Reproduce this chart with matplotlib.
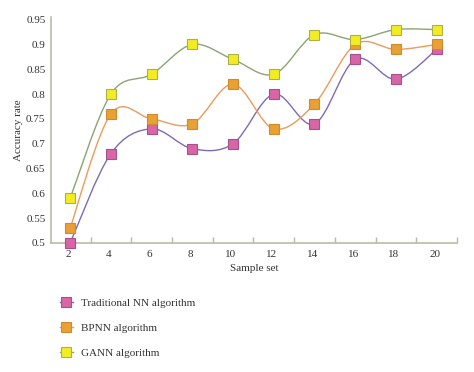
import matplotlib
matplotlib.use("Agg")
import matplotlib.pyplot as plt
from matplotlib.path import Path
from matplotlib.patches import PathPatch
from matplotlib.lines import Line2D
import numpy as np

plt.rcParams["font.family"] = ["Liberation Serif", "DejaVu Serif"]

samples = ["2", "4", "6", "8", "10", "12", "14", "16", "18", "20"]
trad_nn = [0.50, 0.68, 0.73, 0.69, 0.70, 0.80, 0.74, 0.87, 0.83, 0.89]
bpnn = [0.53, 0.76, 0.75, 0.74, 0.82, 0.73, 0.78, 0.90, 0.89, 0.90]
gann = [0.59, 0.80, 0.84, 0.90, 0.87, 0.84, 0.92, 0.91, 0.93, 0.93]
labels = ["Traditional NN algorithm", "BPNN algorithm", "GANN algorithm"]

# (couleur ligne, remplissage marqueur, bord marqueur)
STYLES = [
    ("#7f6bb3", "#d866a6", "#a8508a"),
    ("#eb9b5c", "#e9a034", "#cf8a2c"),
    ("#8ba474", "#f4ec22", "#a9b24a"),
]
AXC = "#b7bca4"


def smooth_path(xs, ys):
    # lissage type Catmull-Rom -> Bezier cubiques (façon tableur)
    pts = np.column_stack([xs, ys])
    ext = np.vstack([pts[0], pts, pts[-1]])
    verts = [pts[0]]
    codes = [Path.MOVETO]
    for i in range(len(pts) - 1):
        p0, p1, p2, p3 = ext[i], ext[i + 1], ext[i + 2], ext[i + 3]
        verts += [p1 + (p2 - p0) / 6, p2 - (p3 - p1) / 6, p2]
        codes += [Path.CURVE4] * 3
    return Path(verts, codes)


fig = plt.figure(figsize=(4.74, 3.72), dpi=100)
ax = fig.add_axes([0.1076, 0.3468, 0.8565, 0.607])

x = np.arange(1, len(samples) + 1)
handles = []
for ys, (lc, fc, ec), lab in zip([trad_nn, bpnn, gann], STYLES, labels):
    ax.add_patch(PathPatch(smooth_path(x, ys), fc="none", ec=lc, lw=1.0, zorder=2))
    ax.plot(x, ys, ls="none", marker="s", ms=7.8, mfc=fc, mec=ec, mew=0.8,
            clip_on=False, zorder=3)
    handles.append(Line2D([], [], color=lc, lw=1.0, marker="s", ms=6.5,
                          mfc=fc, mec=ec, mew=0.8))

ax.set_xlim(0.53, 10.5)
ax.set_ylim(0.5, 0.955)
ax.set_xticks(x - 0.05)
ax.set_xticklabels(samples)
ax.set_xticks(np.arange(1.5, 11, 1.0), minor=True)
ax.set_yticks(np.arange(0.5, 0.951, 0.05))
ax.set_yticklabels(["0.5", "0.55", "0.6", "0.65", "0.7", "0.75", "0.8", "0.85", "0.9", "0.95"])
ax.tick_params(axis="x", which="major", length=0, pad=5, labelsize=8, labelcolor="#333333")
ax.tick_params(axis="x", which="minor", direction="in", length=4, color=AXC, width=1)
ax.tick_params(axis="y", length=0, pad=4, labelsize=8, labelcolor="#333333")
for s in ("top", "right"):
    ax.spines[s].set_visible(False)
for s in ("left", "bottom"):
    ax.spines[s].set_color(AXC)
    ax.spines[s].set_linewidth(1.2)

ax.set_xlabel("Sample set", fontsize=8, color="#333333", labelpad=4)
ax.set_ylabel("Accuracy rate", fontsize=8, color="#333333", labelpad=2)

fig.legend(handles, labels, loc="upper left", bbox_to_anchor=(0.105, 0.225),
           frameon=False, fontsize=8, labelspacing=1.35, handlelength=1.2,
           handletextpad=0.7, labelcolor="#333333")

fig.savefig("out.png", dpi=100, facecolor="white")
